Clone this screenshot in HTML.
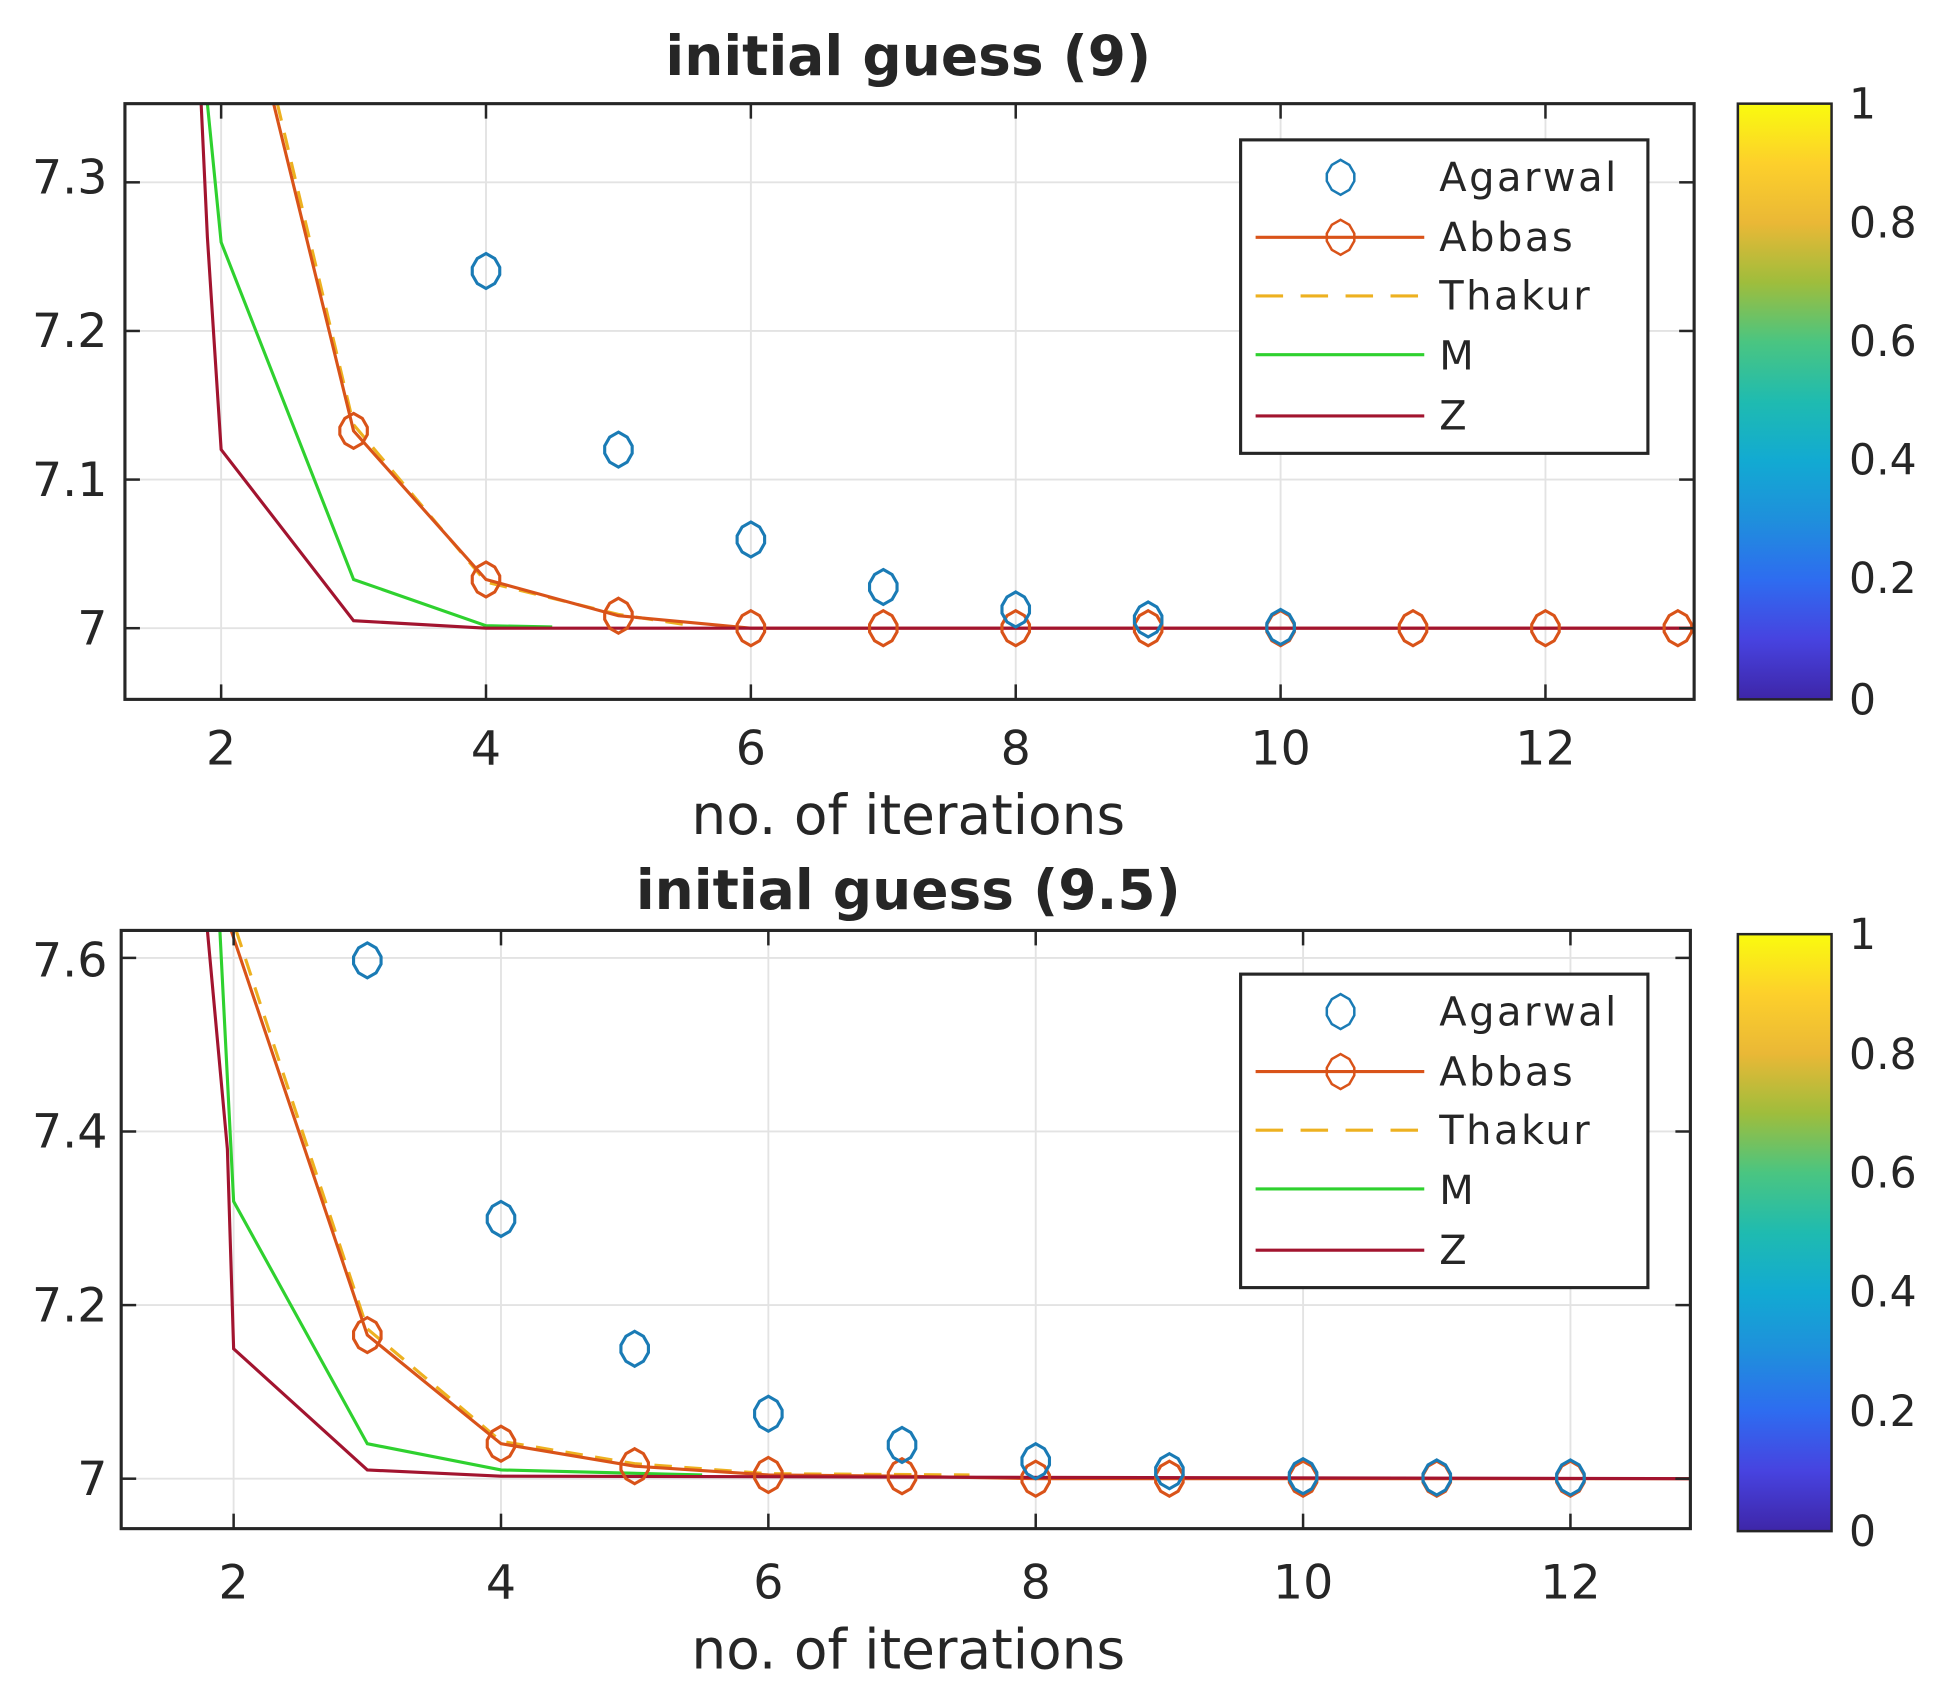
<!DOCTYPE html>
<html><head><meta charset="utf-8"><style>
html,body{margin:0;padding:0;background:#fff;}
svg{display:block;}
text{font-family:"DejaVu Sans","Liberation Sans",sans-serif;fill:#262626;}
</style></head><body>
<svg width="1949" height="1686" viewBox="0 0 1560 1350" preserveAspectRatio="none" xmlns="http://www.w3.org/2000/svg">
<defs>
<path id="dm" d="M0,-14 L7,-10 L11,-3 L11,3 L7,10 L0,14 L-7,10 L-11,3 L-11,-3 L-7,-10 Z"/>
<linearGradient id="par" x1="0" y1="1" x2="0" y2="0">
<stop offset="0" stop-color="#3e26a8"/><stop offset="0.1" stop-color="#4743e0"/><stop offset="0.2" stop-color="#2e6cf0"/><stop offset="0.3" stop-color="#1f8fdc"/><stop offset="0.4" stop-color="#12aad2"/><stop offset="0.5" stop-color="#1fbbb0"/><stop offset="0.6" stop-color="#4ac581"/><stop offset="0.7" stop-color="#9fbd3c"/><stop offset="0.8" stop-color="#eab836"/><stop offset="0.9" stop-color="#fdd02b"/><stop offset="1" stop-color="#f9fb0e"/>
</linearGradient>
<clipPath id="c1"><rect x="100" y="83" width="1256" height="477"/></clipPath>
<clipPath id="c2"><rect x="97" y="745" width="1256" height="479"/></clipPath>
</defs>

<!-- TOP -->
<text x="727" y="60" font-size="44" font-weight="bold" text-anchor="middle">initial guess (9)</text>
<g stroke="#e3e3e3" stroke-width="1.5">
<line x1="177" y1="83" x2="177" y2="560"/><line x1="389" y1="83" x2="389" y2="560"/><line x1="601" y1="83" x2="601" y2="560"/><line x1="813" y1="83" x2="813" y2="560"/><line x1="1025" y1="83" x2="1025" y2="560"/><line x1="1237" y1="83" x2="1237" y2="560"/>
<line x1="100" y1="503" x2="1356" y2="503"/><line x1="100" y1="384" x2="1356" y2="384"/><line x1="100" y1="265" x2="1356" y2="265"/><line x1="100" y1="146" x2="1356" y2="146"/>
</g>
<g clip-path="url(#c1)" fill="none" stroke-width="2.5">
<polyline stroke="#EDB120" stroke-dasharray="14,10" points="222,83 283,340 389,466 495,492 548,500"/>
<polyline stroke="#D95319" points="219,83 283,345 389,464 495,493 601,503 1356,503"/>
<polyline stroke="#2fd12f" points="166,83 177,194 283,464 389,501 442,502"/>
<polyline stroke="#A2142F" points="161,83 166,190 177,360 283,497 389,503 1356,503"/>
<g stroke="#D95319"><use href="#dm" x="283" y="345"/><use href="#dm" x="389" y="464"/><use href="#dm" x="495" y="493"/><use href="#dm" x="601" y="503"/><use href="#dm" x="707" y="503"/><use href="#dm" x="813" y="503"/><use href="#dm" x="919" y="503"/><use href="#dm" x="1025" y="503"/><use href="#dm" x="1131" y="503"/><use href="#dm" x="1237" y="503"/><use href="#dm" x="1343" y="503"/></g>
<g stroke="#1a7bb5"><use href="#dm" x="389" y="217"/><use href="#dm" x="495" y="360"/><use href="#dm" x="601" y="432"/><use href="#dm" x="707" y="470"/><use href="#dm" x="813" y="488"/><use href="#dm" x="919" y="496"/><use href="#dm" x="1025" y="502"/></g>
</g>
<rect x="100" y="83" width="1256" height="477" fill="none" stroke="#262626" stroke-width="2.5"/>
<g stroke="#262626" stroke-width="2">
<line x1="177" y1="560" x2="177" y2="548"/><line x1="389" y1="560" x2="389" y2="548"/><line x1="601" y1="560" x2="601" y2="548"/><line x1="813" y1="560" x2="813" y2="548"/><line x1="1025" y1="560" x2="1025" y2="548"/><line x1="1237" y1="560" x2="1237" y2="548"/>
<line x1="177" y1="83" x2="177" y2="95"/><line x1="389" y1="83" x2="389" y2="95"/><line x1="601" y1="83" x2="601" y2="95"/><line x1="813" y1="83" x2="813" y2="95"/><line x1="1025" y1="83" x2="1025" y2="95"/><line x1="1237" y1="83" x2="1237" y2="95"/>
<line x1="100" y1="503" x2="112" y2="503"/><line x1="100" y1="384" x2="112" y2="384"/><line x1="100" y1="265" x2="112" y2="265"/><line x1="100" y1="146" x2="112" y2="146"/>
<line x1="1356" y1="503" x2="1344" y2="503"/><line x1="1356" y1="384" x2="1344" y2="384"/><line x1="1356" y1="265" x2="1344" y2="265"/><line x1="1356" y1="146" x2="1344" y2="146"/>
</g>
<g font-size="38" text-anchor="end"><text x="86" y="516">7</text><text x="86" y="397">7.1</text><text x="86" y="278">7.2</text><text x="86" y="155">7.3</text></g>
<g font-size="38" text-anchor="middle"><text x="177" y="612">2</text><text x="389" y="612">4</text><text x="601" y="612">6</text><text x="813" y="612">8</text><text x="1025" y="612">10</text><text x="1237" y="612">12</text></g>
<text x="727" y="668" font-size="44" text-anchor="middle">no. of iterations</text>
<!-- legend top -->
<rect x="993" y="112" width="326" height="251" fill="#fff" stroke="#262626" stroke-width="2.5"/>
<g font-size="32" letter-spacing="2"><text x="1152" y="153">Agarwal</text><text x="1152" y="201">Abbas</text><text x="1152" y="248">Thakur</text><text x="1152" y="296">M</text><text x="1152" y="344">Z</text></g>
<use href="#dm" x="1073" y="142" fill="none" stroke="#1a7bb5" stroke-width="2"/>
<line x1="1005" y1="190" x2="1140" y2="190" stroke="#D95319" stroke-width="2.5"/><use href="#dm" x="1073" y="190" fill="none" stroke="#D95319" stroke-width="2"/>
<line x1="1005" y1="237" x2="1140" y2="237" stroke="#EDB120" stroke-width="2.5" stroke-dasharray="22,14"/>
<line x1="1005" y1="284" x2="1140" y2="284" stroke="#2fd12f" stroke-width="2.5"/>
<line x1="1005" y1="333" x2="1140" y2="333" stroke="#A2142F" stroke-width="2.5"/>
<!-- colorbar top -->
<rect x="1391" y="83" width="75" height="477" fill="url(#par)" stroke="#262626" stroke-width="2"/>
<g font-size="34"><text x="1480" y="95">1</text><text x="1480" y="190">0.8</text><text x="1480" y="285">0.6</text><text x="1480" y="380">0.4</text><text x="1480" y="475">0.2</text><text x="1480" y="572">0</text></g>

<!-- BOTTOM -->
<text x="727" y="728" font-size="44" font-weight="bold" text-anchor="middle">initial guess (9.5)</text>
<g stroke="#e3e3e3" stroke-width="1.5">
<line x1="187" y1="745" x2="187" y2="1224"/><line x1="401" y1="745" x2="401" y2="1224"/><line x1="615" y1="745" x2="615" y2="1224"/><line x1="829" y1="745" x2="829" y2="1224"/><line x1="1043" y1="745" x2="1043" y2="1224"/><line x1="1257" y1="745" x2="1257" y2="1224"/>
<line x1="97" y1="1184" x2="1353" y2="1184"/><line x1="97" y1="1045" x2="1353" y2="1045"/><line x1="97" y1="906" x2="1353" y2="906"/><line x1="97" y1="767" x2="1353" y2="767"/>
</g>
<g clip-path="url(#c2)" fill="none" stroke-width="2.5">
<polyline stroke="#EDB120" stroke-dasharray="14,10" points="189,745 294,1064 401,1154 508,1172 615,1180 776,1181"/>
<polyline stroke="#D95319" points="185,745 294,1069 401,1156 508,1174 615,1181 722,1182 829,1184 1353,1184"/>
<polyline stroke="#2fd12f" points="176,745 187,962 294,1156 401,1177 562,1181"/>
<polyline stroke="#A2142F" points="166,745 182,920 187,1080 294,1177 401,1182 1353,1184"/>
<g stroke="#D95319"><use href="#dm" x="294" y="1069"/><use href="#dm" x="401" y="1156"/><use href="#dm" x="508" y="1174"/><use href="#dm" x="615" y="1181"/><use href="#dm" x="722" y="1182"/><use href="#dm" x="829" y="1184"/><use href="#dm" x="936" y="1184"/><use href="#dm" x="1043" y="1184"/><use href="#dm" x="1150" y="1184"/><use href="#dm" x="1257" y="1184"/></g>
<g stroke="#1a7bb5"><use href="#dm" x="294" y="769"/><use href="#dm" x="401" y="976"/><use href="#dm" x="508" y="1080"/><use href="#dm" x="615" y="1132"/><use href="#dm" x="722" y="1157"/><use href="#dm" x="829" y="1170"/><use href="#dm" x="936" y="1178"/><use href="#dm" x="1043" y="1182"/><use href="#dm" x="1150" y="1183"/><use href="#dm" x="1257" y="1183"/></g>
</g>
<rect x="97" y="745" width="1256" height="479" fill="none" stroke="#262626" stroke-width="2.5"/>
<g stroke="#262626" stroke-width="2">
<line x1="187" y1="1224" x2="187" y2="1212"/><line x1="401" y1="1224" x2="401" y2="1212"/><line x1="615" y1="1224" x2="615" y2="1212"/><line x1="829" y1="1224" x2="829" y2="1212"/><line x1="1043" y1="1224" x2="1043" y2="1212"/><line x1="1257" y1="1224" x2="1257" y2="1212"/>
<line x1="187" y1="745" x2="187" y2="757"/><line x1="401" y1="745" x2="401" y2="757"/><line x1="615" y1="745" x2="615" y2="757"/><line x1="829" y1="745" x2="829" y2="757"/><line x1="1043" y1="745" x2="1043" y2="757"/><line x1="1257" y1="745" x2="1257" y2="757"/>
<line x1="97" y1="1184" x2="109" y2="1184"/><line x1="97" y1="1045" x2="109" y2="1045"/><line x1="97" y1="906" x2="109" y2="906"/><line x1="97" y1="767" x2="109" y2="767"/>
<line x1="1353" y1="1184" x2="1341" y2="1184"/><line x1="1353" y1="1045" x2="1341" y2="1045"/><line x1="1353" y1="906" x2="1341" y2="906"/><line x1="1353" y1="767" x2="1341" y2="767"/>
</g>
<g font-size="38" text-anchor="end"><text x="86" y="1197">7</text><text x="86" y="1058">7.2</text><text x="86" y="919">7.4</text><text x="86" y="782">7.6</text></g>
<g font-size="38" text-anchor="middle"><text x="187" y="1280">2</text><text x="401" y="1280">4</text><text x="615" y="1280">6</text><text x="829" y="1280">8</text><text x="1043" y="1280">10</text><text x="1257" y="1280">12</text></g>
<text x="727" y="1336" font-size="44" text-anchor="middle">no. of iterations</text>
<!-- legend bottom -->
<rect x="993" y="780" width="326" height="251" fill="#fff" stroke="#262626" stroke-width="2.5"/>
<g font-size="32" letter-spacing="2"><text x="1152" y="821">Agarwal</text><text x="1152" y="869">Abbas</text><text x="1152" y="916">Thakur</text><text x="1152" y="964">M</text><text x="1152" y="1012">Z</text></g>
<use href="#dm" x="1073" y="810" fill="none" stroke="#1a7bb5" stroke-width="2"/>
<line x1="1005" y1="858" x2="1140" y2="858" stroke="#D95319" stroke-width="2.5"/><use href="#dm" x="1073" y="858" fill="none" stroke="#D95319" stroke-width="2"/>
<line x1="1005" y1="905" x2="1140" y2="905" stroke="#EDB120" stroke-width="2.5" stroke-dasharray="22,14"/>
<line x1="1005" y1="952" x2="1140" y2="952" stroke="#2fd12f" stroke-width="2.5"/>
<line x1="1005" y1="1001" x2="1140" y2="1001" stroke="#A2142F" stroke-width="2.5"/>
<!-- colorbar bottom -->
<rect x="1391" y="748" width="75" height="478" fill="url(#par)" stroke="#262626" stroke-width="2"/>
<g font-size="34"><text x="1480" y="760">1</text><text x="1480" y="856">0.8</text><text x="1480" y="951">0.6</text><text x="1480" y="1046">0.4</text><text x="1480" y="1142">0.2</text><text x="1480" y="1238">0</text></g>
</svg>
</body></html>
